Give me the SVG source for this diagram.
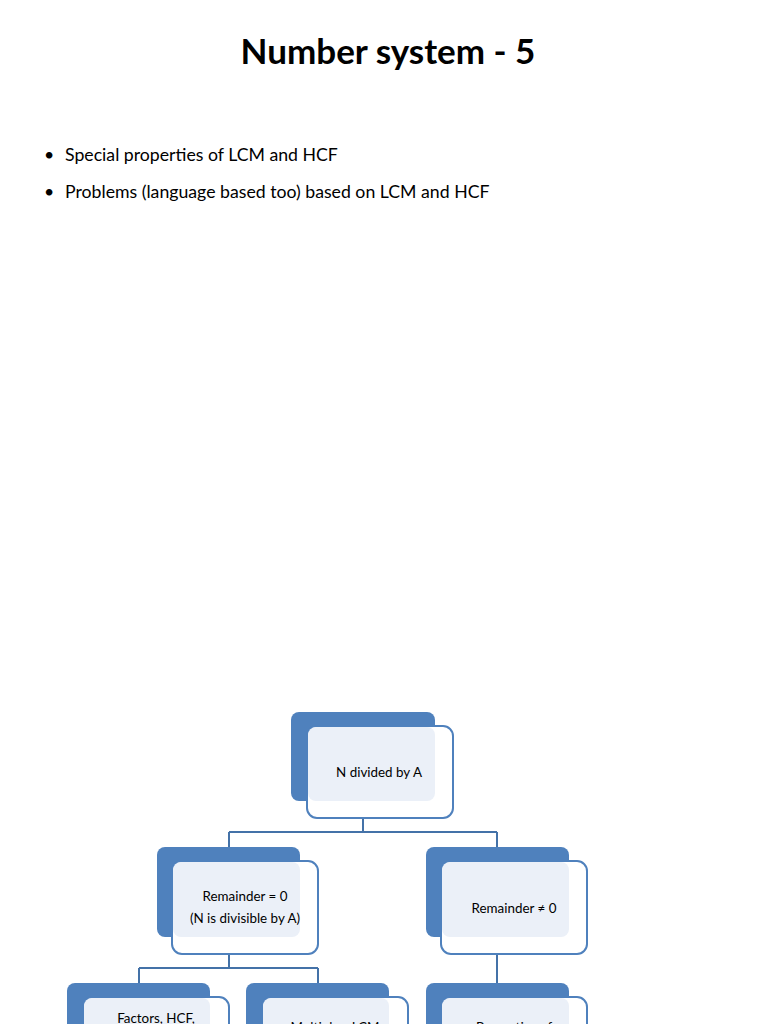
<svg xmlns="http://www.w3.org/2000/svg" width="768" height="1024" viewBox="0 0 768 1024">
<style>
.t{font-family:Lato,"Liberation Sans",sans-serif;fill:#000}
.bk{fill:#4F81BD}
.fr{fill:#fff;stroke:#4F81BD;stroke-width:2}
.lt{fill:#EBF0F8}
.n{font-family:Lato,"Liberation Sans",sans-serif;font-size:13.4px;fill:#000;text-anchor:middle}
.c{fill:none;stroke:#4472A8;stroke-width:2}
</style>
<rect width="768" height="1024" fill="#fff"/>
<text class="t" x="388" y="64" font-size="35" font-weight="bold" text-anchor="middle">Number system - 5</text>
<text class="t" x="44" y="161" font-size="17.7">•</text>
<text class="t" x="65" y="161" font-size="17.7">Special properties of LCM and HCF</text>
<text class="t" x="44" y="198" font-size="17.7">•</text>
<text class="t" x="65" y="198" font-size="17.7">Problems (language based too) based on LCM and HCF</text>
<g id="connectors">
<path class="c" d="M363 818V832M229 832H497M229 832V847M497 832V847"/>
<path class="c" d="M229 954V968M139 968H318M139 968V983M318 968V983"/>
<path class="c" d="M497 954V983"/>
</g>
<g id="n1"><rect class="bk" x="291" y="712" width="144" height="89" rx="8"/><rect class="fr" x="307" y="726" width="146" height="92" rx="10"/><rect class="lt" x="308" y="727" width="127" height="74" rx="8"/><text class="n" x="379" y="777">N divided by A</text></g>
<g id="n2"><rect class="bk" x="157" y="847" width="143" height="90" rx="8"/><rect class="fr" x="172" y="861" width="146" height="93" rx="10"/><rect class="lt" x="173" y="862" width="127" height="75" rx="8"/><text class="n" x="245" y="901">Remainder = 0</text><text class="n" x="245" y="923">(N is divisible by A)</text></g>
<g id="n3"><rect class="bk" x="426" y="847" width="143" height="90" rx="8"/><rect class="fr" x="441" y="861" width="146" height="93" rx="10"/><rect class="lt" x="442" y="862" width="127" height="75" rx="8"/><text class="n" x="514" y="913">Remainder ≠ 0</text></g>
<g id="n4"><rect class="bk" x="67" y="983" width="143" height="90" rx="8"/><rect class="fr" x="83" y="997" width="146" height="93" rx="10"/><rect class="lt" x="84" y="998" width="126" height="75" rx="8"/><text class="n" x="156" y="1023">Factors, HCF,</text></g>
<g id="n5"><rect class="bk" x="246" y="983" width="143" height="90" rx="8"/><rect class="fr" x="262" y="997" width="146" height="93" rx="10"/><rect class="lt" x="263" y="998" width="126" height="75" rx="8"/><text class="n" x="335" y="1032">Multiples, LCM</text></g>
<g id="n6"><rect class="bk" x="426" y="983" width="143" height="90" rx="8"/><rect class="fr" x="441" y="997" width="146" height="93" rx="10"/><rect class="lt" x="442" y="998" width="127" height="75" rx="8"/><text class="n" x="514" y="1032">Properties of</text></g>
</svg>
